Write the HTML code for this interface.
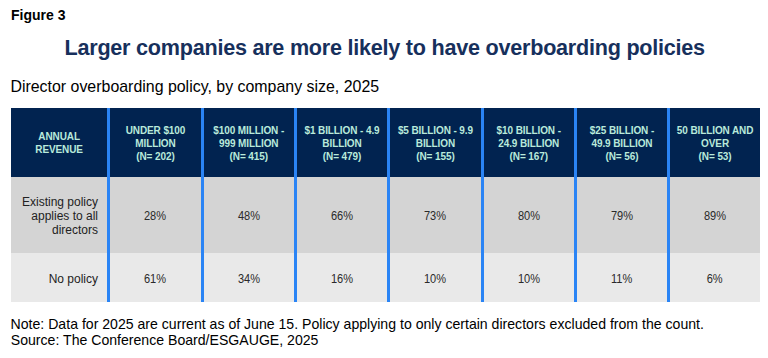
<!DOCTYPE html>
<html>
<head>
<meta charset="utf-8">
<style>
html,body{margin:0;padding:0;background:#fff;}
body{width:768px;height:358px;position:relative;overflow:hidden;font-family:"Liberation Sans",sans-serif;}
.t{position:absolute;white-space:nowrap;line-height:1;}
#fig{left:11px;top:7.5px;font-size:14px;font-weight:bold;color:#000;}
#title{left:64.5px;top:36.6px;font-size:21.6px;letter-spacing:-0.24px;font-weight:bold;color:#17305c;}
#sub{left:10.4px;top:78.6px;font-size:15.93px;color:#000;}
#note1{left:10.6px;top:316.9px;font-size:14.1px;color:#000;}
#note2{left:10.8px;top:332.6px;font-size:14.1px;color:#000;}
.bg{position:absolute;left:11px;width:749px;}
#hdr{top:108px;height:69px;background:#012350;}
#r1{top:177px;height:76px;background:#d4d4d4;}
#r2{top:253px;height:49px;background:#e9e9e9;}
.vl{position:absolute;top:108px;height:194px;width:3px;background:#2a84f5;}
.hc{position:absolute;top:108px;height:69px;display:flex;align-items:center;justify-content:center;text-align:center;color:#b9eadb;font-weight:bold;font-size:10px;line-height:13px;padding-top:1.6px;letter-spacing:-0.1px;box-sizing:border-box;}
.lab{position:absolute;left:11px;width:87px;display:flex;align-items:center;justify-content:flex-end;text-align:right;color:#222;font-size:12px;line-height:14px;padding-top:2px;box-sizing:border-box;}
.dc{position:absolute;display:flex;align-items:center;justify-content:center;color:#2a2a2a;font-size:12px;line-height:14px;padding-top:1px;box-sizing:border-box;}
.dc span{display:inline-block;transform:scaleX(0.92);}
</style>
</head>
<body>
<div class="t" id="fig">Figure 3</div>
<div class="t" id="title">Larger companies are more likely to have overboarding policies</div>
<div class="t" id="sub">Director overboarding policy, by company size, 2025</div>

<div class="bg" id="hdr"></div>
<div class="bg" id="r1"></div>
<div class="bg" id="r2"></div>

<div class="vl" style="left:107.2px"></div>
<div class="vl" style="left:200.7px"></div>
<div class="vl" style="left:293.8px"></div>
<div class="vl" style="left:387.2px"></div>
<div class="vl" style="left:480.7px"></div>
<div class="vl" style="left:573.8px"></div>
<div class="vl" style="left:667.2px"></div>

<div class="hc" style="left:11px;width:96.2px">ANNUAL<br>REVENUE</div>
<div class="hc" style="left:110.2px;width:90.5px">UNDER $100<br>MILLION<br>(N= 202)</div>
<div class="hc" style="left:203.7px;width:90.1px">$100 MILLION -<br>999 MILLION<br>(N= 415)</div>
<div class="hc" style="left:296.8px;width:90.4px">$1 BILLION - 4.9<br>BILLION<br>(N= 479)</div>
<div class="hc" style="left:390.2px;width:90.5px">$5 BILLION - 9.9<br>BILLION<br>(N= 155)</div>
<div class="hc" style="left:483.7px;width:90.1px">$10 BILLION -<br>24.9 BILLION<br>(N= 167)</div>
<div class="hc" style="left:576.8px;width:90.4px">$25 BILLION -<br>49.9 BILLION<br>(N= 56)</div>
<div class="hc" style="left:670.2px;width:89.8px">50 BILLION AND<br>OVER<br>(N= 53)</div>

<div class="lab" style="top:177px;height:76px">Existing policy<br>applies to all<br>directors</div>
<div class="lab" style="top:253px;height:49px">No policy</div>

<div class="dc" style="left:110.2px;width:90.5px;top:177px;height:76px"><span>28%</span></div>
<div class="dc" style="left:203.7px;width:90.1px;top:177px;height:76px"><span>48%</span></div>
<div class="dc" style="left:296.8px;width:90.4px;top:177px;height:76px"><span>66%</span></div>
<div class="dc" style="left:390.2px;width:90.5px;top:177px;height:76px"><span>73%</span></div>
<div class="dc" style="left:483.7px;width:90.1px;top:177px;height:76px"><span>80%</span></div>
<div class="dc" style="left:576.8px;width:90.4px;top:177px;height:76px"><span>79%</span></div>
<div class="dc" style="left:670.2px;width:89.8px;top:177px;height:76px"><span>89%</span></div>

<div class="dc" style="left:110.2px;width:90.5px;top:254px;height:49px"><span>61%</span></div>
<div class="dc" style="left:203.7px;width:90.1px;top:254px;height:49px"><span>34%</span></div>
<div class="dc" style="left:296.8px;width:90.4px;top:254px;height:49px"><span>16%</span></div>
<div class="dc" style="left:390.2px;width:90.5px;top:254px;height:49px"><span>10%</span></div>
<div class="dc" style="left:483.7px;width:90.1px;top:254px;height:49px"><span>10%</span></div>
<div class="dc" style="left:576.8px;width:90.4px;top:254px;height:49px"><span>11%</span></div>
<div class="dc" style="left:670.2px;width:89.8px;top:254px;height:49px"><span>6%</span></div>

<div class="t" id="note1">Note: Data for 2025 are current as of June 15. Policy applying to only certain directors excluded from the count.</div>
<div class="t" id="note2">Source: The Conference Board/ESGAUGE, 2025</div>
</body>
</html>
